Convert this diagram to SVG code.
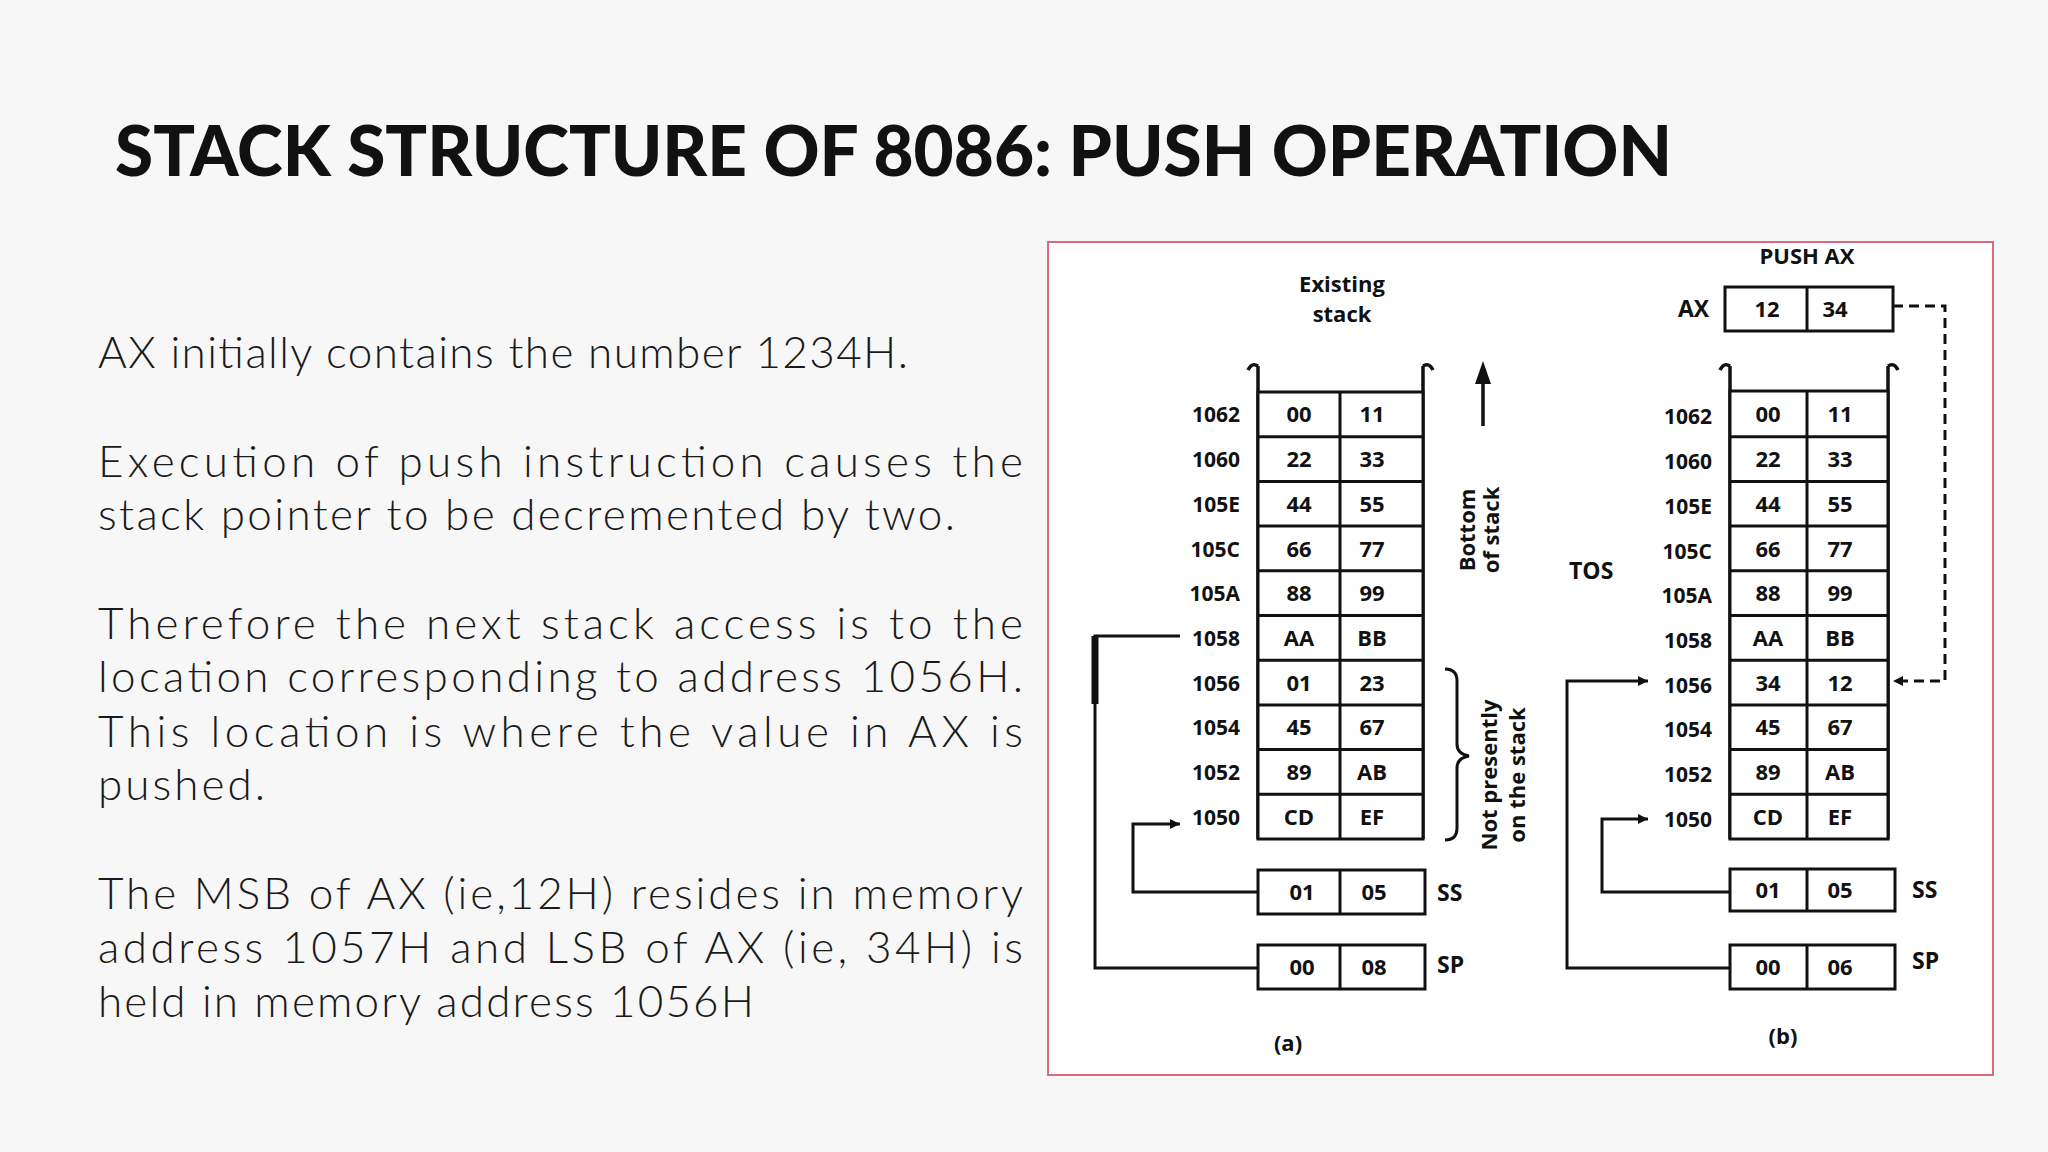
<svg xmlns="http://www.w3.org/2000/svg" width="2048" height="1152" viewBox="0 0 2048 1152">
<defs>
<marker id="ahb" viewBox="0 0 10 10" refX="10" refY="5" markerWidth="16" markerHeight="10" markerUnits="userSpaceOnUse" orient="auto"><path d="M0,0 L10,5 L0,10 z" fill="#111"/></marker>
<style>
.body{font-family:Lato,"Open Sans",sans-serif;font-weight:300;font-size:44px;fill:#1a1a1a}
.c{fill:#fff;stroke:#111;stroke-width:3}
.t{font-family:"Open Sans","DejaVu Sans",sans-serif;font-weight:700;font-size:22px;fill:#111;text-anchor:middle}
.a{font-family:"Open Sans","DejaVu Sans",sans-serif;font-weight:700;font-size:21px;fill:#111;text-anchor:end}
.l{font-family:"Open Sans","DejaVu Sans",sans-serif;font-weight:700;font-size:23px;fill:#111}
.w{fill:none;stroke:#111;stroke-width:3.5}
</style>
</defs>
<rect width="2048" height="1152" fill="#f7f7f7"/>
<text x="115" y="176" font-family="Lato,'Open Sans',sans-serif" font-weight="900" font-size="70" fill="#111" textLength="1557" lengthAdjust="spacingAndGlyphs">STACK STRUCTURE OF 8086: PUSH OPERATION</text>
<g id="body-text" class="body">
<text x="98" y="368" textLength="810">AX initially contains the number 1234H.</text>
<text x="98" y="477" textLength="925">Execution of push instruction causes the</text>
<text x="98" y="530" textLength="857">stack pointer to be decremented by two.</text>
<text x="98" y="639" textLength="925">Therefore the next stack access is to the</text>
<text x="98" y="692" textLength="925">location corresponding to address 1056H.</text>
<text x="98" y="747" textLength="925">This location is where the value in AX is</text>
<text x="98" y="800" textLength="167">pushed.</text>
<text x="98" y="909" textLength="925">The MSB of AX (ie,12H) resides in memory</text>
<text x="98" y="963" textLength="925">address 1057H and LSB of AX (ie, 34H) is</text>
<text x="98" y="1017" textLength="656">held in memory address 1056H</text>
</g>
<rect id="frame" x="1048" y="242" width="945" height="833" fill="#fff" stroke="#d96a80" stroke-width="2"/>

<g id="stack-a">
<text class="t" x="1342" y="292">Existing</text>
<text class="t" x="1342" y="322">stack</text>
<path class="w" d="M1258,839 V366 M1423,839 V366 M1248,370 q4,-8 10,-4 M1423,366 q6,-4 10,4"/>
<g id="cells-a">
<rect class="c" x="1258" y="392" width="165" height="447"/>
<path stroke="#111" stroke-width="3" d="M1340,392V839 M1258,436.7H1423 M1258,481.4H1423 M1258,526.1H1423 M1258,570.8H1423 M1258,615.5H1423 M1258,660.2H1423 M1258,704.9H1423 M1258,749.6H1423 M1258,794.3H1423"/>
</g>
<g class="t">
<text x="1299" y="422">00</text><text x="1372" y="422">11</text>
<text x="1299" y="467">22</text><text x="1372" y="467">33</text>
<text x="1299" y="512">44</text><text x="1372" y="512">55</text>
<text x="1299" y="557">66</text><text x="1372" y="557">77</text>
<text x="1299" y="601">88</text><text x="1372" y="601">99</text>
<text x="1299" y="646">AA</text><text x="1372" y="646">BB</text>
<text x="1299" y="691">01</text><text x="1372" y="691">23</text>
<text x="1299" y="735">45</text><text x="1372" y="735">67</text>
<text x="1299" y="780">89</text><text x="1372" y="780">AB</text>
<text x="1299" y="825">CD</text><text x="1372" y="825">EF</text>
</g>
<g class="a">
<text x="1240" y="422">1062</text>
<text x="1240" y="467">1060</text>
<text x="1240" y="512">105E</text>
<text x="1240" y="557">105C</text>
<text x="1240" y="601">105A</text>
<text x="1240" y="646">1058</text>
<text x="1240" y="691">1056</text>
<text x="1240" y="735">1054</text>
<text x="1240" y="780">1052</text>
<text x="1240" y="825">1050</text>
</g>
<g id="ss-a"><rect class="c" x="1258" y="870" width="167" height="44"/><path stroke="#111" stroke-width="3" d="M1340,870V914"/>
<text class="t" x="1302" y="900">01</text><text class="t" x="1374" y="900">05</text><text class="l" x="1437" y="901">SS</text></g>
<g id="sp-a"><rect class="c" x="1258" y="945" width="167" height="44"/><path stroke="#111" stroke-width="3" d="M1340,945V989"/>
<text class="t" x="1302" y="975">00</text><text class="t" x="1374" y="975">08</text><text class="l" x="1437" y="973">SP</text></g>
<path class="w" d="M1483,426V380"/><path d="M1475,384 L1483,361 L1491,384z" fill="#111"/>
<text class="t" transform="translate(1475,530) rotate(-90)" font-size="21">Bottom</text>
<text class="t" transform="translate(1499,530) rotate(-90)" font-size="21">of stack</text>
<path fill="none" stroke="#111" stroke-width="3" d="M1445,669 q12,0 12,12 V744 q0,10 12,12 q-12,2 -12,12 V828 q0,12 -12,12"/>
<text class="t" transform="translate(1497,775) rotate(-90)" font-size="22">Not presently</text>
<text class="t" transform="translate(1525,775) rotate(-90)" font-size="22">on the stack</text>
<text class="t" x="1288" y="1051" font-size="21">(a)</text>
</g>

<g id="stack-b">
<text class="t" x="1807" y="264">PUSH AX</text>
<g id="ax-b"><rect class="c" x="1725" y="287" width="168" height="44"/><path stroke="#111" stroke-width="3" d="M1807,287V331"/>
<text class="t" x="1767" y="317">12</text><text class="t" x="1835" y="317">34</text><text class="l" x="1678" y="317">AX</text></g>
<path class="w" d="M1730,839 V366 M1888,839 V366 M1720,370 q4,-8 10,-4 M1888,366 q6,-4 10,4"/>
<g id="cells-b">
<rect class="c" x="1730" y="391" width="158" height="448"/>
<path stroke="#111" stroke-width="3" d="M1807,391V839 M1730,436.7H1888 M1730,481.4H1888 M1730,526.1H1888 M1730,570.8H1888 M1730,615.5H1888 M1730,660.2H1888 M1730,704.9H1888 M1730,749.6H1888 M1730,794.3H1888"/>
</g>
<g class="t">
<text x="1768" y="422">00</text><text x="1840" y="422">11</text>
<text x="1768" y="467">22</text><text x="1840" y="467">33</text>
<text x="1768" y="512">44</text><text x="1840" y="512">55</text>
<text x="1768" y="557">66</text><text x="1840" y="557">77</text>
<text x="1768" y="601">88</text><text x="1840" y="601">99</text>
<text x="1768" y="646">AA</text><text x="1840" y="646">BB</text>
<text x="1768" y="691">34</text><text x="1840" y="691">12</text>
<text x="1768" y="735">45</text><text x="1840" y="735">67</text>
<text x="1768" y="780">89</text><text x="1840" y="780">AB</text>
<text x="1768" y="825">CD</text><text x="1840" y="825">EF</text>
</g>
<g class="a">
<text x="1712" y="424">1062</text>
<text x="1712" y="469">1060</text>
<text x="1712" y="514">105E</text>
<text x="1712" y="559">105C</text>
<text x="1712" y="603">105A</text>
<text x="1712" y="648">1058</text>
<text x="1712" y="693">1056</text>
<text x="1712" y="737">1054</text>
<text x="1712" y="782">1052</text>
<text x="1712" y="827">1050</text>
</g>
<text class="l" x="1569" y="579">TOS</text>
<g id="ss-b"><rect class="c" x="1730" y="869" width="165" height="42"/><path stroke="#111" stroke-width="3" d="M1807,869V911"/>
<text class="t" x="1768" y="898">01</text><text class="t" x="1840" y="898">05</text><text class="l" x="1912" y="898">SS</text></g>
<g id="sp-b"><rect class="c" x="1730" y="945" width="165" height="44"/><path stroke="#111" stroke-width="3" d="M1807,945V989"/>
<text class="t" x="1768" y="975">00</text><text class="t" x="1840" y="975">06</text><text class="l" x="1912" y="969">SP</text></g>
<text class="t" x="1783" y="1044" font-size="21">(b)</text>
</g>

<g id="connectors" fill="none" stroke="#111" stroke-width="3">
<path d="M1258,968 H1095 V636 H1180"/>
<path d="M1095,636 V704" stroke-width="7"/>
<path d="M1258,892 H1133 V824 H1180" marker-end="url(#ahb)"/>
<path d="M1730,968 H1567 V681 H1648" marker-end="url(#ahb)"/>
<path d="M1730,892 H1602 V819 H1648" marker-end="url(#ahb)"/>
<path d="M1893,306 H1945 V681 H1893" stroke-dasharray="10,6" marker-end="url(#ahb)"/>
</g>
</svg>
